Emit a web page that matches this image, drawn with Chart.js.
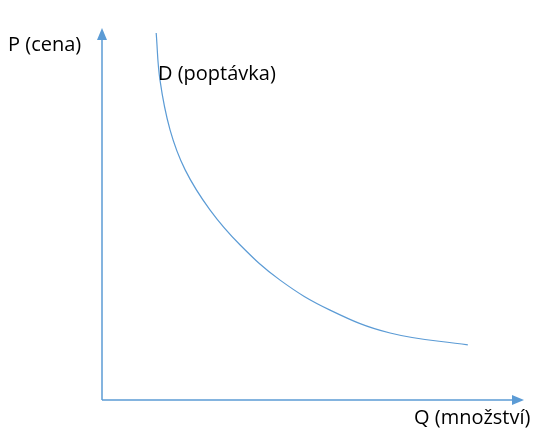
<!DOCTYPE html>
<html><head><meta charset="utf-8">
<script src="https://cdn.jsdelivr.net/npm/chart.js@4"></script>
<style>html,body{margin:0;padding:0;background:#fff}#w{width:540px;height:442px}</style>
</head><body><div id="w"><canvas id="c"></canvas></div>
<script>
const curveX = [12.9, 13.8, 16.2, 19.8, 25.7, 32.9, 42.4, 54.3, 68.6, 87.1];
const curveY = [99.2, 86.5, 73.0, 62.2, 51.4, 41.9, 32.4, 24.3, 18.1, 14.9];
const labels = {y: 'P (cena)', curve: 'D (poptávka)', x: 'Q (množství)'};
const blue = '#5B9BD5';
const deco = {
  id: 'deco',
  afterDraw(ch) {
    const {ctx, chartArea: a} = ch;
    ctx.save();
    ctx.strokeStyle = blue; ctx.fillStyle = blue; ctx.lineWidth = 1.5;
    ctx.beginPath(); ctx.moveTo(a.left, a.bottom); ctx.lineTo(a.left, a.top + 8); ctx.stroke();
    ctx.beginPath(); ctx.moveTo(a.left - 5, a.top + 10); ctx.lineTo(a.left, a.top - 2); ctx.lineTo(a.left + 5, a.top + 10); ctx.fill();
    ctx.beginPath(); ctx.moveTo(a.left, a.bottom); ctx.lineTo(a.right - 8, a.bottom); ctx.stroke();
    ctx.beginPath(); ctx.moveTo(a.right - 10, a.bottom - 5); ctx.lineTo(a.right + 2, a.bottom); ctx.lineTo(a.right - 10, a.bottom + 5); ctx.fill();
    ctx.fillStyle = '#000'; ctx.font = '20px "Open Sans", sans-serif'; ctx.textBaseline = 'middle';
    ctx.fillText(labels.y, 8, 45);
    ctx.fillText(labels.curve, 158, 74);
    ctx.fillText(labels.x, 414, 418);
    ctx.restore();
  }
};
new Chart(document.getElementById('c'), {
  type: 'scatter',
  data: {datasets: [{data: curveX.map((x, i) => ({x, y: curveY[i]})), showLine: true, borderColor: blue, borderWidth: 1.2, pointRadius: 0, tension: 0.4, fill: false}]},
  options: {
    responsive: true, maintainAspectRatio: false, animation: false,
    layout: {padding: {left: 102, right: 18, top: 30, bottom: 42}},
    plugins: {legend: {display: false}, tooltip: {enabled: false}},
    scales: {x: {display: false, min: 0, max: 100}, y: {display: false, min: 0, max: 100}}
  },
  plugins: [deco]
});
</script></body></html>
